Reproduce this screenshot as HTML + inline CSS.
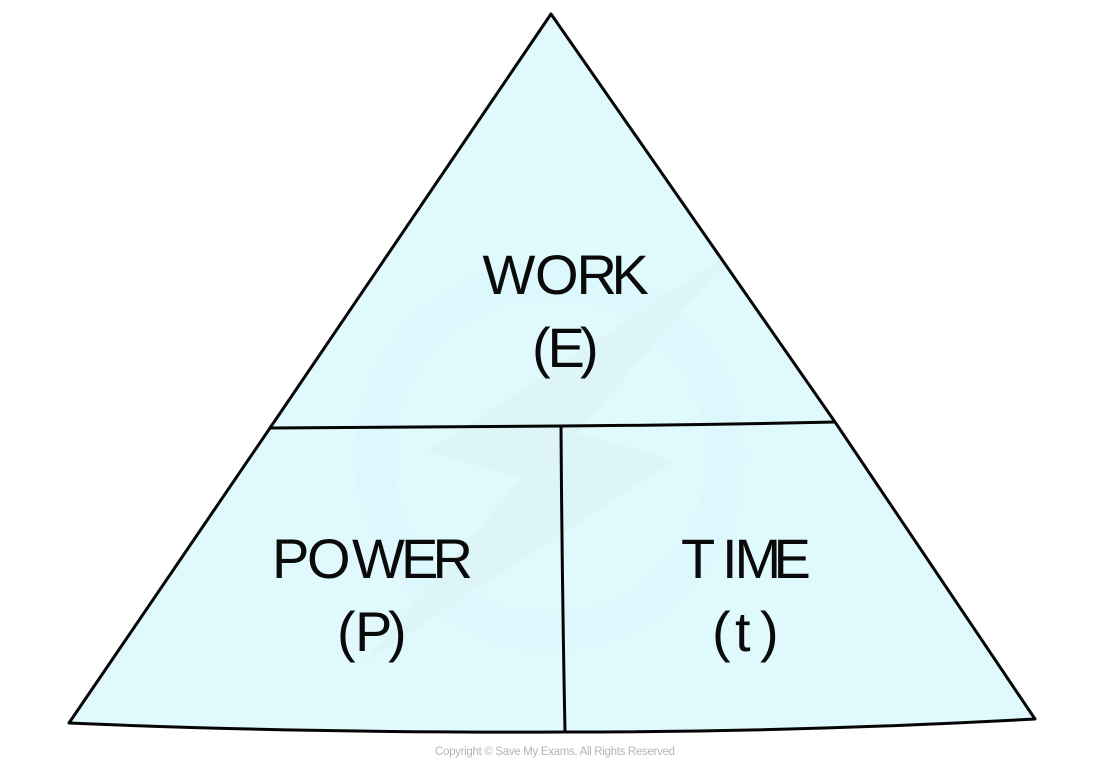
<!DOCTYPE html>
<html>
<head>
<meta charset="utf-8">
<style>
html,body{margin:0;padding:0;background:#fff;width:1100px;height:767px;overflow:hidden}
svg{display:block}
text{font-family:"Liberation Sans",sans-serif;fill:#0a0a0a;font-size:56px}
</style>
</head>
<body>
<svg width="1100" height="767" viewBox="0 0 1100 767" xmlns="http://www.w3.org/2000/svg">
<defs>
<clipPath id="tri"><path d="M551 14L835 422L1035 719Q800 732 565 732Q300 733 69 723L270 428Z"/></clipPath>
</defs>
<path d="M551 14L835 422L1035 719Q800 732 565 732Q300 733 69 723L270 428Z" fill="#dff9fd"/>
<g clip-path="url(#tri)">
<circle cx="550" cy="456" r="176" fill="none" stroke="#ddf8fd" stroke-width="39"/>
<path d="M733 252L427 452L522 478L363 663L675 460L577 433Z" fill="#ddf5f7"/>
</g>
<path d="M551 14L835 422L1035 719Q800 732 565 732Q300 733 69 723L270 428Z" fill="none" stroke="#050505" stroke-width="3" stroke-linejoin="round"/>
<path d="M270 428Q420 427 561 426Q700 425 835 422" fill="none" stroke="#050505" stroke-width="3"/>
<path d="M561 426Q562 580 565 732" fill="none" stroke="#050505" stroke-width="3"/>
<text x="482.5 535 576.5 611.5" y="294">WORK</text>
<text x="532 547.5 580" y="367">(E)</text>
<text x="272 307 352 401 432.5" y="578">POWER</text>
<text x="337 355 388" y="651">(P)</text>
<text x="681 722 734.5 773.5" y="578">TIME</text>
<text x="712 735 760" y="651">(t)</text>
<text x="435" y="755" textLength="240" lengthAdjust="spacing" style="font-size:11.5px;fill:#b5b5b5">Copyright © Save My Exams. All Rights Reserved</text>
</svg>
</body>
</html>
